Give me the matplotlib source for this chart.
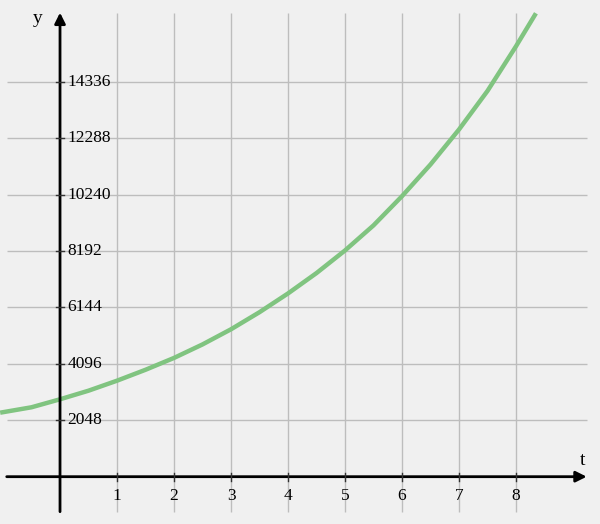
import matplotlib
matplotlib.use('Agg')
from matplotlib import pyplot as plt

# values
t_vals = [-1.05, -0.5, 0, 0.5, 1, 1.5, 2, 2.5, 3, 3.5, 4, 4.5, 5, 5.5, 6, 6.5, 7, 7.5, 8, 8.35]
y_vals = [2323, 2519, 2809, 3121, 3484, 3880, 4310, 4800, 5350, 5970, 6650, 7390, 8210,
          9120, 10180, 11330, 12600, 14000, 15620, 16818]

x_ticks = [1, 2, 3, 4, 5, 6, 7, 8]
y_ticks = [2048, 4096, 6144, 8192, 10240, 12288, 14336]

x_lo, x_hi = -0.935, 9.24
y_lo, y_hi = -1270, 16818

serif = 'Liberation Serif'

fig = plt.figure(figsize=(6, 5.24), dpi=100, facecolor='#f0f0f0')
ax = fig.add_axes([0, 0, 1, 1])
ax.set_facecolor('#f0f0f0')
ax.set_xlim(-1.053, 9.474)
ax.set_ylim(-1717, 17300)
ax.axis('off')

# grid
ax.vlines(x_ticks, y_lo, y_hi, color='#bdbdbd', lw=1, zorder=1)
ax.hlines(y_ticks, x_lo, x_hi, color='#bdbdbd', lw=1, zorder=1)

# axes with arrows
arrow = dict(arrowstyle='-|>', color='black', lw=2, mutation_scale=16, shrinkA=0, shrinkB=0)
ax.annotate('', xy=(x_hi, 0), xytext=(x_lo, 0), arrowprops=arrow, zorder=3)
ax.annotate('', xy=(0, 16840), xytext=(0, y_lo), arrowprops=arrow, zorder=3)

# ticks and labels
for t in x_ticks:
    ax.plot([t, t], [-170, 150], color='#333333', lw=1, zorder=4)
    ax.text(t, -420, str(t), ha='center', va='top', family=serif, fontsize=12.5)
for v in y_ticks:
    ax.plot([-0.07, 0.07], [v, v], color='#333333', lw=1, zorder=4)
    ax.text(0.125, v, str(v), ha='left', va='center', family=serif, fontsize=12.5)

ax.text(-0.39, 16640, 'y', ha='center', va='center', family=serif, fontsize=14)
ax.text(9.17, 600, 't', ha='center', va='center', family=serif, fontsize=14)

ax.plot(t_vals, y_vals, color='#80c480', lw=3.2, solid_capstyle='butt',
        solid_joinstyle='round', zorder=2)

fig.savefig('out.png', dpi=100, facecolor='#f0f0f0')
